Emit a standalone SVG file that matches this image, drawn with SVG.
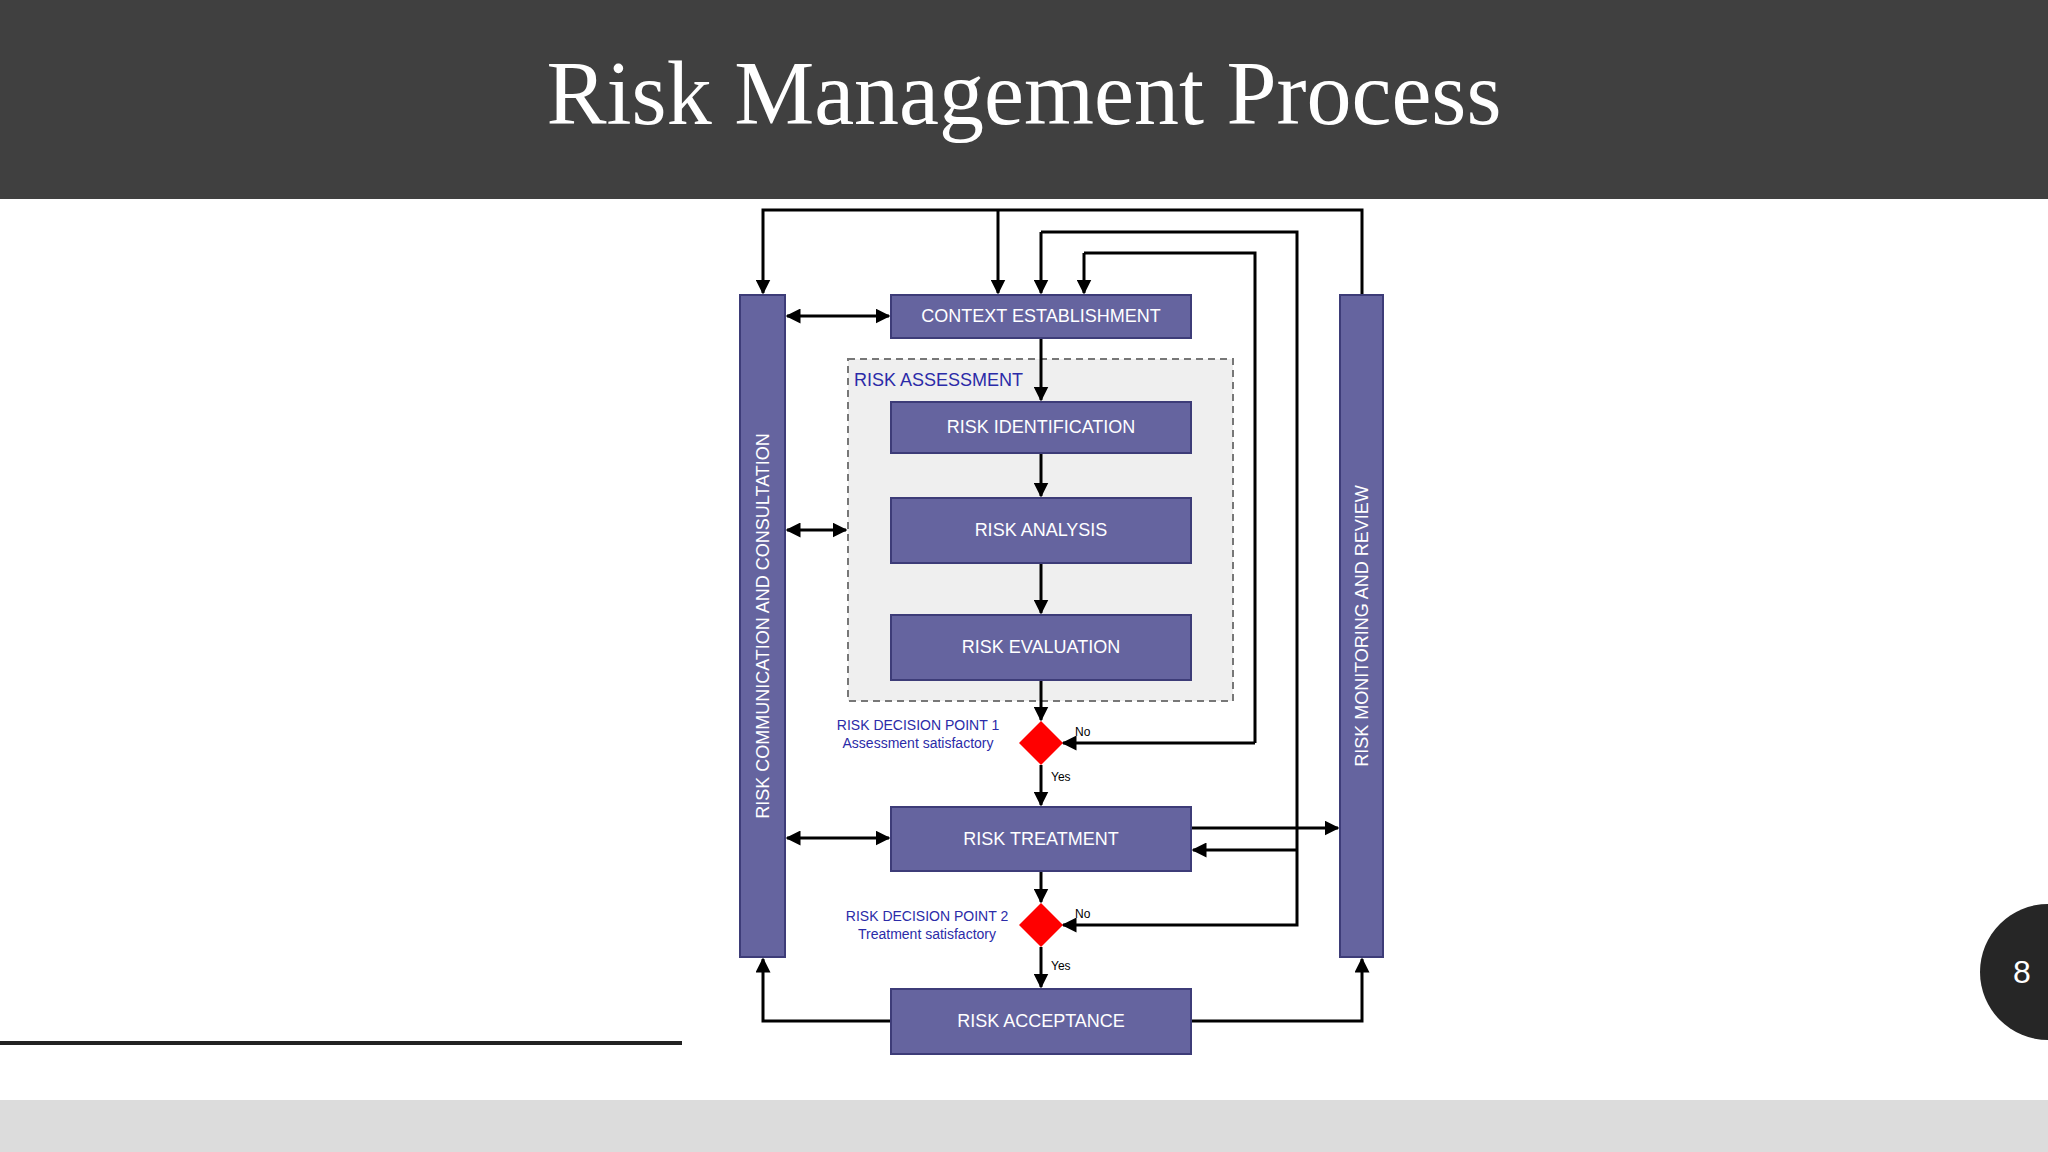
<svg xmlns="http://www.w3.org/2000/svg" width="2048" height="1152" viewBox="0 0 2048 1152">
<defs>
<marker id="ah" viewBox="0 0 10 10" refX="9" refY="5" markerWidth="5" markerHeight="5" orient="auto-start-reverse"><path d="M0,0 L10,5 L0,10 z" fill="#000"/></marker>
<style>
.box{fill:#65649f;stroke:#3d3c78;stroke-width:2}
.bt{fill:#fff;font-family:"Liberation Sans",Arial,sans-serif;font-size:18px;text-anchor:middle}
.ln{fill:none;stroke:#000;stroke-width:3}
.ar{fill:none;stroke:#000;stroke-width:3;marker-end:url(#ah)}
.ar2{fill:none;stroke:#000;stroke-width:3;marker-end:url(#ah);marker-start:url(#ah)}
.bl{fill:#2b2ba8;font-family:"Liberation Sans",Arial,sans-serif;font-size:14px;text-anchor:middle}
.sm{fill:#000;font-family:"Liberation Sans",Arial,sans-serif;font-size:12px}
</style>
</defs>
<rect width="2048" height="1152" fill="#fff"/>
<rect width="2048" height="199" fill="#404040"/>
<text x="1024" y="124" fill="#fff" font-family="Liberation Serif,serif" font-size="90" text-anchor="middle">Risk Management Process</text>
<rect y="1100" width="2048" height="52" fill="#dcdcdc"/>
<line x1="0" y1="1043" x2="682" y2="1043" stroke="#222" stroke-width="4"/>
<circle cx="2048" cy="972" r="68" fill="#262626"/>
<text x="2022" y="983" fill="#fff" font-family="Liberation Sans,sans-serif" font-size="32" text-anchor="middle">8</text>
<rect x="848" y="359" width="385" height="342" fill="#efefef" stroke="#777" stroke-width="2" stroke-dasharray="7,5"/>
<text x="854" y="386" fill="#2b2ba8" font-family="Liberation Sans,sans-serif" font-size="18">RISK ASSESSMENT</text>
<g id="connectors">
<path class="ar" d="M1362,295 V210 H763 V293"/>
<path class="ar" d="M998,210 V293"/>
<path class="ar" d="M1041,232 H1297 V925 H1063"/>
<path class="ar" d="M1041,232 V293"/>
<path class="ar" d="M1255,743 H1063"/>
<path class="ln" d="M1255,743 V253 H1084"/>
<path class="ar" d="M1084,253 V293"/>
<path class="ar2" d="M787,316 H889"/>
<path class="ar2" d="M787,530 H846"/>
<path class="ar2" d="M787,838 H889"/>
<path class="ar" d="M1191,828 H1338"/>
<path class="ar" d="M1297,850 H1193"/>
<path class="ar" d="M891,1021 H763 V959"/>
<path class="ar" d="M1191,1021 H1362 V959"/>
<path class="ar" d="M1041,338 V400"/>
<path class="ar" d="M1041,453 V496"/>
<path class="ar" d="M1041,563 V613"/>
<path class="ar" d="M1041,680 V720"/>
<path class="ar" d="M1041,765 V805"/>
<path class="ar" d="M1041,871 V902"/>
<path class="ar" d="M1041,947 V987"/>
</g>
<g id="left"><rect class="box" x="740" y="295" width="45" height="662"/><text class="bt" transform="translate(769,626) rotate(-90)">RISK COMMUNICATION AND CONSULTATION</text></g>
<g id="right"><rect class="box" x="1340" y="295" width="43" height="662"/><text class="bt" transform="translate(1368,626) rotate(-90)">RISK MONITORING AND REVIEW</text></g>
<g id="context"><rect class="box" x="891" y="295" width="300" height="43"/><text class="bt" x="1041" y="322">CONTEXT ESTABLISHMENT</text></g>
<g id="ident"><rect class="box" x="891" y="402" width="300" height="51"/><text class="bt" x="1041" y="433">RISK IDENTIFICATION</text></g>
<g id="analysis"><rect class="box" x="891" y="498" width="300" height="65"/><text class="bt" x="1041" y="536">RISK ANALYSIS</text></g>
<g id="evaluation"><rect class="box" x="891" y="615" width="300" height="65"/><text class="bt" x="1041" y="653">RISK EVALUATION</text></g>
<g id="treatment"><rect class="box" x="891" y="807" width="300" height="64"/><text class="bt" x="1041" y="845">RISK TREATMENT</text></g>
<g id="acceptance"><rect class="box" x="891" y="989" width="300" height="65"/><text class="bt" x="1041" y="1027">RISK ACCEPTANCE</text></g>
<g id="d1"><path d="M1041,721 L1063,743 L1041,765 L1019,743 z" fill="#f00"/>
<text class="bl" x="918" y="730">RISK DECISION POINT 1</text><text class="bl" x="918" y="748">Assessment satisfactory</text>
<text class="sm" x="1075" y="736">No</text><text class="sm" x="1051" y="781">Yes</text></g>
<g id="d2"><path d="M1041,903 L1063,925 L1041,947 L1019,925 z" fill="#f00"/>
<text class="bl" x="927" y="921">RISK DECISION POINT 2</text><text class="bl" x="927" y="939">Treatment satisfactory</text>
<text class="sm" x="1075" y="918">No</text><text class="sm" x="1051" y="970">Yes</text></g>
</svg>
